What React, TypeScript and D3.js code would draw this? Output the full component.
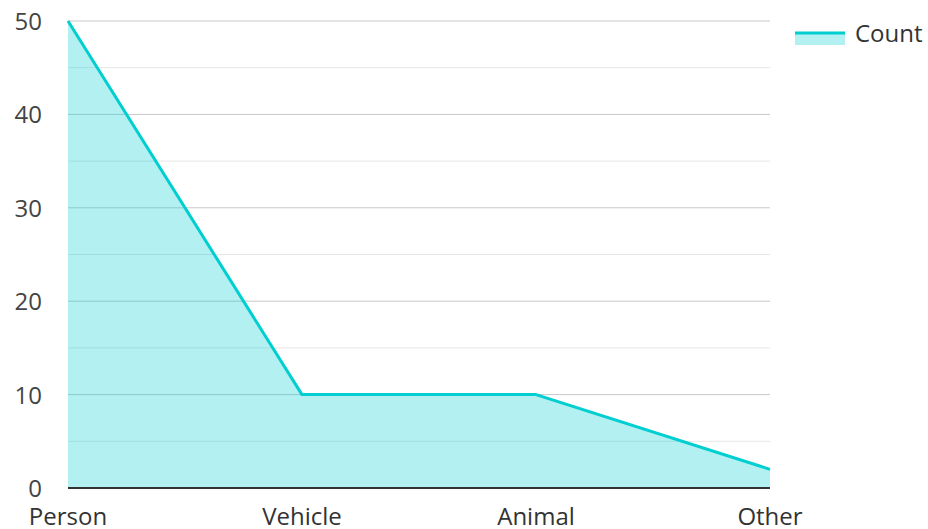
import React from "react";
import * as d3 from "d3";

const categories = ["Person", "Vehicle", "Animal", "Other"];
const counts = [50, 10, 10, 2];
const yTicks = [0, 10, 20, 30, 40, 50];
const seriesName = "Count";

export default function App() {
  const W = 928, H = 529;
  const left = 68, right = 770, top = 21, bottom = 488;
  const x = d3.scalePoint<string>().domain(categories).range([left, right]);
  const y = d3.scaleLinear().domain([0, 50]).range([bottom, top]);
  const minor = d3.range(5, 50, 10);
  const data = categories.map((c, i) => ({ c, v: counts[i] }));
  const area = d3.area<{ c: string; v: number }>().x(d => x(d.c)!).y0(y(0)).y1(d => y(d.v));
  const line = d3.line<{ c: string; v: number }>().x(d => x(d.c)!).y(d => y(d.v));
  const color = "#00ced1";
  const font = "'Open Sans', 'Noto Sans', sans-serif";
  return (
    <svg width={W} height={H} style={{ position: "absolute", left: 0, top: 0 }} fontFamily={font}>
      {minor.map(t => (
        <line key={"m" + t} x1={left} x2={right} y1={y(t)} y2={y(t)} stroke="#e6e6e6" strokeWidth={1} />
      ))}
      {yTicks.filter(t => t > 0).map(t => (
        <line key={"g" + t} x1={left} x2={right} y1={y(t)} y2={y(t)} stroke="#c8c8c8" strokeWidth={1} />
      ))}
      <path d={area(data)!} fill={color} fillOpacity={0.3} />
      <path d={line(data)!} fill="none" stroke={color} strokeWidth={3} strokeLinejoin="round" />
      <line x1={left} x2={right} y1={bottom} y2={bottom} stroke="#333" strokeWidth={2} />
      {yTicks.map(t => (
        <text key={"y" + t} x={42} y={y(t) + 9} textAnchor="end" fontSize={24} fill="#444">{t}</text>
      ))}
      {categories.map(c => (
        <text key={c} x={x(c)} y={525} textAnchor="middle" fontSize={24} fill="#333">{c}</text>
      ))}
      <rect x={795} y={34} width={50} height={11} fill={color} fillOpacity={0.3} />
      <line x1={795} x2={845} y1={33} y2={33} stroke={color} strokeWidth={3} />
      <text x={855} y={42} fontSize={24} fill="#333">{seriesName}</text>
    </svg>
  );
}
